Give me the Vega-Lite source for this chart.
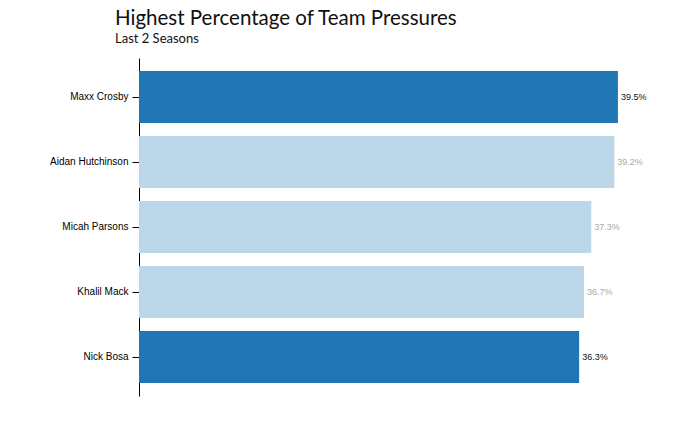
{
  "$schema": "https://vega.github.io/schema/vega-lite/v6.json",
  "width": 485,
  "height": 338,
  "autosize": "none",
  "padding": {"left": 139, "top": 58, "right": 72, "bottom": 39},
  "background": "white",
  "config": {"view": {"stroke": null}},
  "title": {
    "text": "Highest Percentage of Team Pressures",
    "subtitle": "Last 2 Seasons",
    "anchor": "start",
    "frame": "group",
    "dx": -24,
    "offset": 12,
    "font": "Lato",
    "fontSize": 20.5,
    "fontWeight": "normal",
    "color": "#111",
    "subtitleFont": "Lato",
    "subtitleFontSize": 13,
    "subtitleColor": "#111",
    "subtitlePadding": 4
  },
  "data": {
    "values": [
      {"player": "Maxx Crosby", "pct": 0.395, "group": "highlight"},
      {"player": "Aidan Hutchinson", "pct": 0.392, "group": "other"},
      {"player": "Micah Parsons", "pct": 0.373, "group": "other"},
      {"player": "Khalil Mack", "pct": 0.367, "group": "other"},
      {"player": "Nick Bosa", "pct": 0.363, "group": "highlight"}
    ]
  },
  "encoding": {
    "y": {
      "field": "player",
      "type": "nominal",
      "sort": null,
      "title": null,
      "scale": {"paddingInner": 0.2, "paddingOuter": 0.2},
      "axis": {
        "labelFont": "Liberation Sans",
        "labelFontSize": 10,
        "labelColor": "#000",
        "tickSize": 7,
        "tickColor": "#000",
        "domainColor": "#000",
        "labelPadding": 4
      }
    },
    "x": {
      "field": "pct",
      "type": "quantitative",
      "scale": {"domain": [0, 0.4], "nice": false},
      "axis": null
    }
  },
  "layer": [
    {
      "mark": {"type": "bar"},
      "encoding": {
        "color": {
          "field": "group",
          "type": "nominal",
          "scale": {"domain": ["highlight", "other"], "range": ["#2077b4", "#bdd7ea"]},
          "legend": null
        }
      }
    },
    {
      "mark": {"type": "text", "align": "left", "baseline": "middle", "dx": 3, "font": "Liberation Sans", "fontSize": 9},
      "encoding": {
        "text": {"field": "pct", "type": "quantitative", "format": ".1%"},
        "color": {
          "field": "group",
          "type": "nominal",
          "scale": {"domain": ["highlight", "other"], "range": ["#111111", "#aaaaaa"]},
          "legend": null
        }
      }
    }
  ],
  "resolve": {"scale": {"color": "independent"}}
}
